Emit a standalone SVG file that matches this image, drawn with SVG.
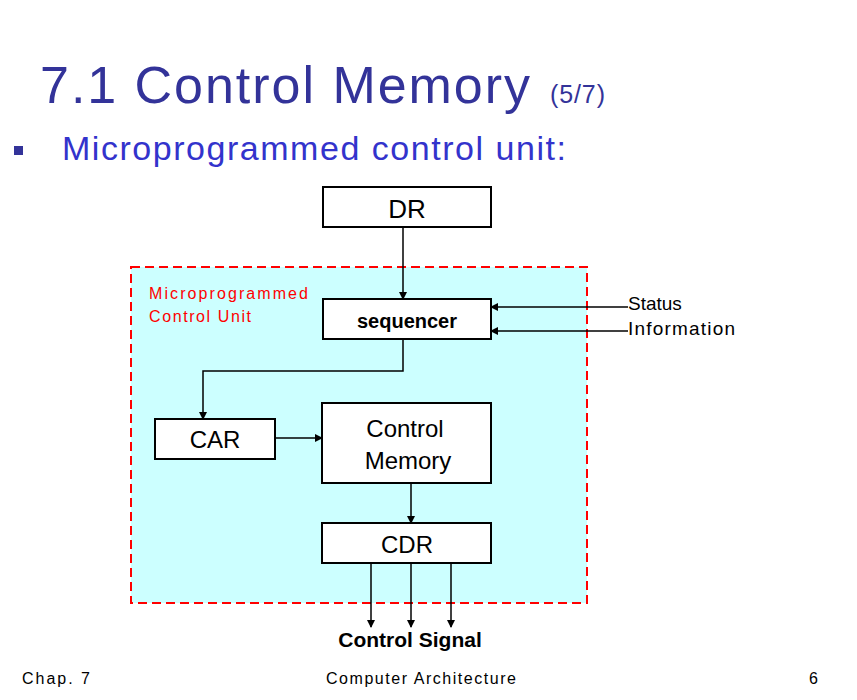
<svg xmlns="http://www.w3.org/2000/svg" width="857" height="700" viewBox="0 0 857 700">
<style>
.box{fill:#fff;stroke:#000;stroke-width:2}
.t{font-family:"Liberation Sans",Arial,sans-serif;fill:#000}
.c{stroke:#000;stroke-width:1.5;fill:none;marker-end:url(#a)}
</style>
<defs><marker id="a" markerWidth="8" markerHeight="8" refX="7" refY="4" orient="auto" markerUnits="userSpaceOnUse"><path d="M0,0 L8,4 L0,8 z" fill="#000"/></marker></defs>
<rect width="857" height="700" fill="#fff"/>
<text x="40" y="103" class="t" style="fill:#333399;font-size:52px" textLength="490" lengthAdjust="spacing">7.1 Control Memory</text>
<text x="550" y="103" class="t" style="fill:#333399;font-size:25px" textLength="55" lengthAdjust="spacing">(5/7)</text>
<rect x="14" y="146" width="9" height="9" fill="#333399"/>
<text x="62" y="160" class="t" style="fill:#3333cc;font-size:34px" textLength="504" lengthAdjust="spacing">Microprogrammed control unit:</text>
<g id="unit"><rect x="131" y="267" width="456" height="336" fill="#ccffff" stroke="#ff0000" stroke-width="2" stroke-dasharray="9,5"/>
<text x="149" y="299" class="t" style="fill:#ff0000;font-size:16px" textLength="159">Microprogrammed</text>
<text x="149" y="322" class="t" style="fill:#ff0000;font-size:16px" textLength="102">Control Unit</text></g>
<g id="dr"><rect class="box" x="323" y="187" width="168" height="40"/><text x="407" y="218" text-anchor="middle" class="t" style="font-size:26px">DR</text></g>
<g id="seq"><rect class="box" x="323" y="299" width="168" height="40"/><text x="407" y="328" text-anchor="middle" class="t" style="font-size:20px;font-weight:bold">sequencer</text></g>
<g id="car"><rect class="box" x="155" y="419" width="120" height="40"/><text x="215" y="448" text-anchor="middle" class="t" style="font-size:24px">CAR</text></g>
<g id="cm"><rect class="box" x="322" y="403" width="169" height="80"/><text x="405" y="437" text-anchor="middle" class="t" style="font-size:24px">Control</text><text x="408" y="469" text-anchor="middle" class="t" style="font-size:24px">Memory</text></g>
<g id="cdr"><rect class="box" x="322" y="523" width="169" height="40"/><text x="407" y="553" text-anchor="middle" class="t" style="font-size:24px">CDR</text></g>
<g id="status"><text x="628" y="310" class="t" style="font-size:19px">Status</text><text x="628" y="335" class="t" style="font-size:19px" textLength="107">Information</text></g>
<g id="connectors">
<path class="c" d="M403,227 V299"/>
<path class="c" d="M628,307 H491"/>
<path class="c" d="M628,331 H491"/>
<path class="c" d="M403,339 V371 H203 V419"/>
<path class="c" d="M275,438 H322"/>
<path class="c" d="M411,483 V523"/>
<path class="c" d="M371,563 V627"/>
<path class="c" d="M411,563 V627"/>
<path class="c" d="M451,563 V627"/>
</g>
<text x="410" y="647" text-anchor="middle" class="t" style="font-size:21px;font-weight:bold">Control Signal</text>
<text x="22" y="684" class="t" style="font-size:16px" textLength="68">Chap. 7</text>
<text x="326" y="684" class="t" style="font-size:16px" textLength="190">Computer  Architecture</text>
<text x="818" y="684" text-anchor="end" class="t" style="font-size:16px">6</text>
</svg>
